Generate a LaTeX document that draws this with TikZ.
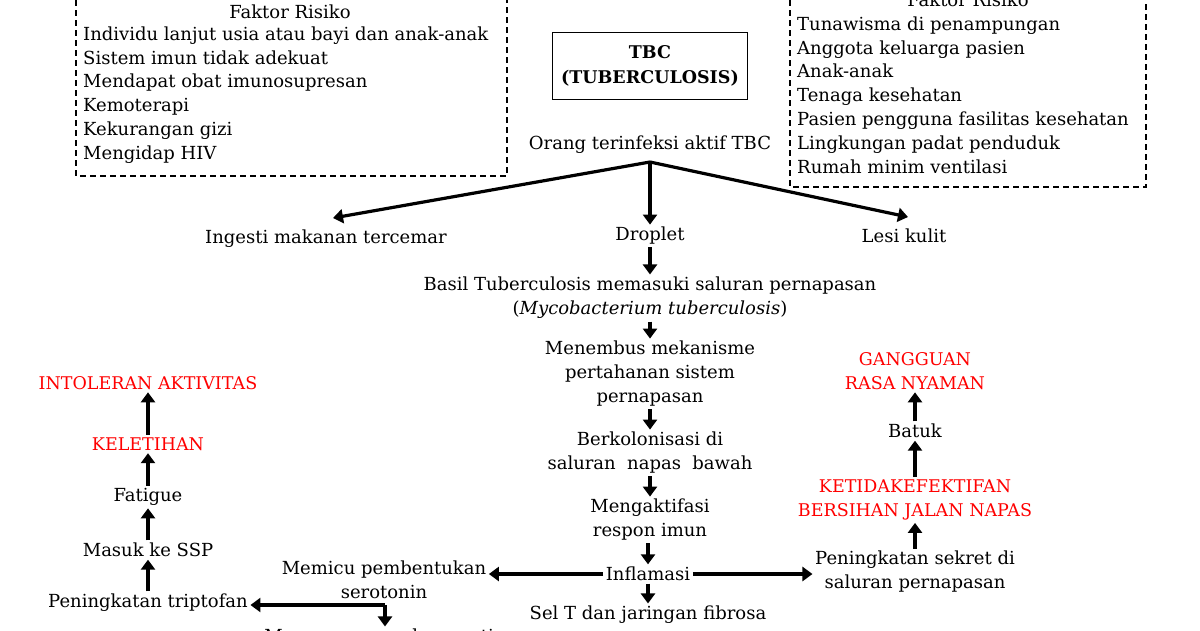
\documentclass[tikz,border=0pt]{standalone}
\usepackage{fontspec}
\setmainfont{DejaVu Serif}
\usetikzlibrary{arrows.meta, positioning}

\begin{document}
\begin{tikzpicture}[x=1pt, y=-1pt,
  txt/.style={align=center, font=\fontsize{18}{24}\selectfont, inner sep=2.5pt},
  redtxt/.style={txt, text=red, font=\fontsize{17.5}{24}\selectfont},
  listtxt/.style={align=left, font=\fontsize{18}{23.8}\selectfont, inner sep=0pt, anchor=west},
  flow/.style={-{Triangle[width=14pt,length=10pt]}, line width=3.2pt},
  riskbox/.style={draw, dash pattern=on 6pt off 4pt, line width=1.3pt}]

\useasboundingbox (0,0) rectangle (1200,630);

% faktor risiko (kiri dan kanan)
\draw[riskbox] (76,-20) rectangle (507,176);
\node[txt] (riskL) at (290,12) {Faktor Risiko};
\node[listtxt] (riskLlist) at (83,95) {Individu lanjut usia atau bayi dan anak-anak\\
  Sistem imun tidak adekuat\\ Mendapat obat imunosupresan\\ Kemoterapi\\
  Kekurangan gizi\\ Mengidap HIV};
\draw[riskbox] (790,-20) rectangle (1146,187);
\node[txt] (riskR) at (968,0) {Faktor Risiko};
\node[listtxt] (riskRlist) at (797,95) {Tunawisma di penampungan\\ Anggota keluarga pasien\\
  Anak-anak\\ Tenaga kesehatan\\ Pasien pengguna fasilitas kesehatan\\
  Lingkungan padat penduduk\\ Rumah minim ventilasi};

% judul
\node[draw, line width=1.3pt, minimum width=195pt, minimum height=67pt, align=center,
  font=\fontsize{17.5}{25}\selectfont\bfseries] (tbc) at (650,66) {TBC\\(TUBERCULOSIS)};

% jalur utama
\node[txt] (orang) at (650,145) {Orang terinfeksi aktif TBC};
\coordinate (split) at (650,162);
\coordinate (ingestitip) at (333,218);
\coordinate (lesitip) at (908,217);
\node[txt] (ingesti) at (326,239) {Ingesti makanan tercemar};
\node[txt] (droplet) at (650,236) {Droplet};
\node[txt] (lesi) at (904,236) {Lesi kulit};
\draw[flow] (split) -- (ingestitip);
\draw[flow] (split) -- (droplet.north);
\draw[flow] (split) -- (lesitip);

\node[txt] (basil) at (650,298) {Basil Tuberculosis memasuki saluran pernapasan\\(\textit{Mycobacterium tuberculosis})};
\node[txt] (menembus) at (650,374) {Menembus mekanisme\\pertahanan sistem\\pernapasan};
\node[txt] (koloni) at (650,453) {Berkolonisasi di\\saluran\ \ napas\ \ bawah};
\node[txt] (aktif) at (650,520) {Mengaktifasi\\respon imun};
\node[txt] (inflamasi) at (648,574) {Inflamasi};
\node[txt] (selt) at (648,615) {Sel T dan jaringan fibrosa};
\draw[flow] (droplet) -- (basil);
\draw[flow] (basil) -- (menembus);
\draw[flow] (menembus) -- (koloni);
\draw[flow] (koloni) -- (aktif);
\draw[flow] (aktif.south -| inflamasi) -- (inflamasi);
\draw[flow] (inflamasi) -- (selt);

% cabang kiri
\node[txt] (memicu) at (384,580) {Memicu pembentukan\\serotonin};
\node[txt] (merangsang) at (385,638) {Merangsang melanocortin};
\node[txt] (triptofan) at (148,603) {Peningkatan triptofan};
\node[txt] (ssp) at (148,550) {Masuk ke SSP};
\node[txt] (fatigue) at (148,497) {Fatigue};
\node[redtxt] (lelah) at (148,444) {KELETIHAN};
\node[redtxt] (intoleran) at (148,383) {INTOLERAN AKTIVITAS};
\coordinate (junc) at (385,605);
\draw[flow] (inflamasi.west) -- (inflamasi.west -| memicu.east);
\draw[flow] (junc) -- (junc -| triptofan.east);
\draw[flow] (junc) -- (merangsang.north);
\draw[flow] (triptofan) -- (ssp);
\draw[flow] (ssp) -- (fatigue);
\draw[flow] (fatigue) -- (lelah);
\draw[flow] (lelah) -- (intoleran);

% cabang kanan
\node[txt] (sekret) at (915,572) {Peningkatan sekret di\\saluran pernapasan};
\node[redtxt] (bersihan) at (915,500) {KETIDAKEFEKTIFAN\\BERSIHAN JALAN NAPAS};
\node[txt] (batuk) at (915,431) {Batuk};
\node[redtxt] (nyaman) at (915,371) {GANGGUAN\\RASA NYAMAN};
\draw[flow] (inflamasi.east) -- (inflamasi.east -| sekret.west);
\draw[flow] (sekret) -- (bersihan);
\draw[flow] (bersihan) -- (batuk);
\draw[flow] (batuk) -- (nyaman);
\end{tikzpicture}
\end{document}
